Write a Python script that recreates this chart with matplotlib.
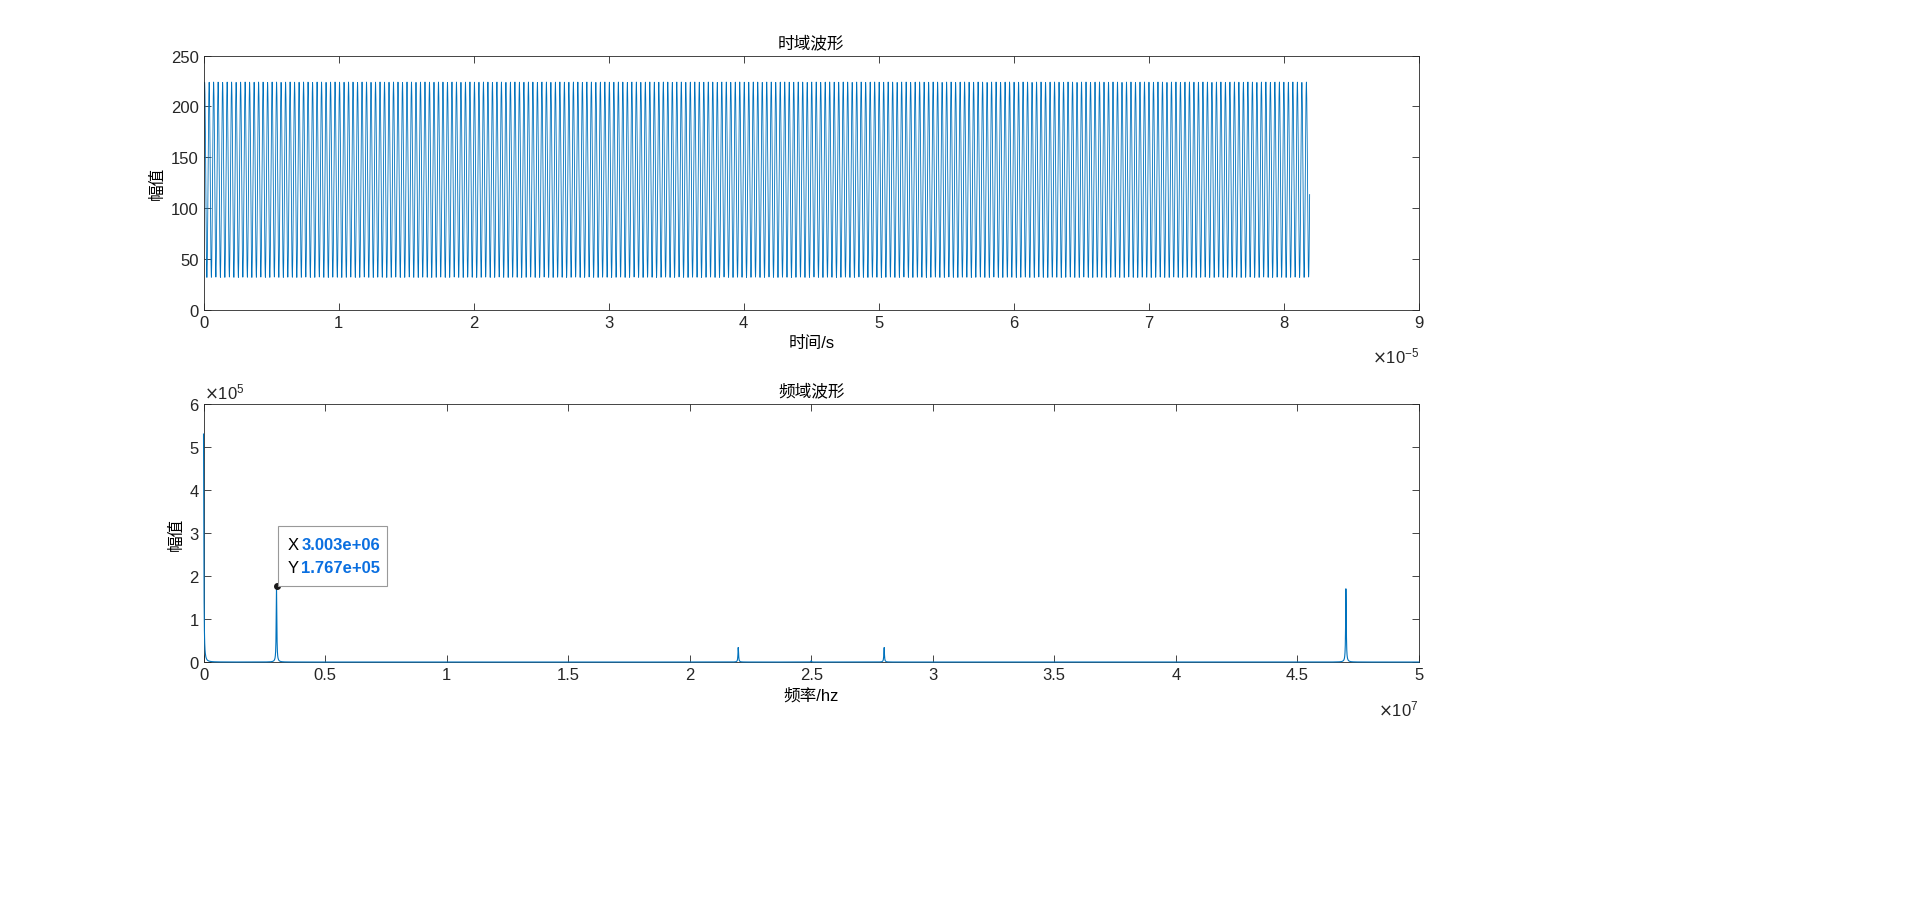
import numpy as np
import matplotlib.pyplot as plt
from matplotlib.ticker import ScalarFormatter
from matplotlib.patches import Rectangle

plt.rcParams['font.family'] = ['Liberation Sans', 'Noto Sans CJK SC', 'DejaVu Sans']
plt.rcParams['font.size'] = 10
plt.rcParams['xtick.direction'] = 'in'
plt.rcParams['ytick.direction'] = 'in'
plt.rcParams['axes.linewidth'] = 0.6
plt.rcParams['axes.edgecolor'] = '#262626'

# time-domain signal parameters
fs = 1e8
n_samples = 8192
offset = 128
amplitude = 96
tone_freq = 3.003e6

# spectrum peaks (Hz, magnitude)
peak_freqs = [0, 3.003e6, 22e6, 25e6, 28e6, 47e6]
peak_mags = [5.3e5, 1.767e5, 0.35e5, 0.03e5, 0.35e5, 1.77e5]

tip_x, tip_y = 3.003e6, 1.767e5

blue = '#0072BD'
t = np.arange(n_samples) / fs
sig = offset + amplitude * np.sin(2 * np.pi * tone_freq * t)

freq = np.arange(n_samples // 2 + 1) * fs / n_samples
spec = np.zeros_like(freq)
df = fs / n_samples
for pf, pm in zip(peak_freqs, peak_mags):
    spec += pm / (1 + ((freq - pf) / (1.2 * df)) ** 2)

fig = plt.figure(figsize=(19.2, 9.12), dpi=100)
ax1 = fig.add_axes([0.106, 0.659, 0.633, 0.279])
ax2 = fig.add_axes([0.106, 0.273, 0.633, 0.283])

ax1.plot(t, sig, color=blue, lw=0.6)
ax1.set_xlim(0, 9e-5)
ax1.set_ylim(0, 250)
ax1.set_title('时域波形', fontsize=12)
ax1.set_xlabel('时间/s', fontsize=12)
ax1.set_ylabel('幅值', fontsize=12)

ax2.plot(freq, spec, color=blue, lw=0.8, zorder=5, clip_on=False)
ax2.set_xlim(0, 5e7)
ax2.set_ylim(0, 6e5)
ax2.set_title('频域波形', fontsize=12)
ax2.set_xlabel('频率/hz', fontsize=12)
ax2.set_ylabel('幅值', fontsize=12)

for ax in (ax1, ax2):
    for axis in (ax.xaxis, ax.yaxis):
        fmt = ScalarFormatter(useMathText=True)
        fmt.set_powerlimits((-3, 4))
        axis.set_major_formatter(fmt)
    ax.tick_params(top=True, right=True, labelsize=12, length=5, width=0.6, colors='#262626')
ax1.set_xticks(np.arange(0, 9.1e-5, 1e-5))
ax2.set_xticks(np.arange(0, 5.01e7, 0.5e7))

# MATLAB-like tick labels (0, 0.5, 1, ...)
fig.canvas.draw()
for ax in (ax1, ax2):
    for axis in (ax.xaxis, ax.yaxis):
        f = axis.get_major_formatter()
        scale = 10.0 ** f.orderOfMagnitude
        labels = ['%g' % round(v / scale, 6) for v in axis.get_ticklocs()]
        off = f.get_offset()
        axis.set_ticks(axis.get_ticklocs())
        axis.set_ticklabels(labels)
        if off:
            if axis is ax.xaxis:
                ax.text(1.0, -0.14, off, transform=ax.transAxes, ha='right', va='top', fontsize=12, color='#262626')
            else:
                ax.text(0.0, 1.01, off, transform=ax.transAxes, ha='left', va='bottom', fontsize=12, color='#262626')

# data tip
ax2.plot([tip_x], [tip_y], 'o', color='#1a1a1a', ms=4, zorder=6)
ax2.add_patch(Rectangle((3.05e6, 1.77e5), 4.5e6, 1.4e5, fc='white', ec='#999999', lw=0.8, zorder=6))
ax2.text(3.45e6, 2.74e5, 'X', fontsize=12, va='center', zorder=7)
ax2.text(4.03e6, 2.74e5, f'{tip_x:.3e}', fontsize=12, va='center', color='#0A6FE0', weight='bold', zorder=7)
ax2.text(3.45e6, 2.19e5, 'Y', fontsize=12, va='center', zorder=7)
ax2.text(4.03e6, 2.19e5, f'{tip_y:.3e}', fontsize=12, va='center', color='#0A6FE0', weight='bold', zorder=7)

fig.savefig('out.png', dpi=100, facecolor='white')
